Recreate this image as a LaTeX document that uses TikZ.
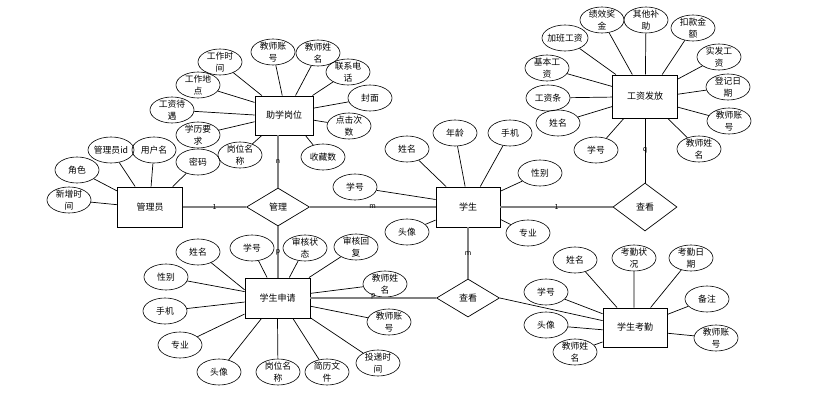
\documentclass[tikz,border=0pt]{standalone}
\usepackage{fontspec}
\setmainfont{Noto Sans CJK SC}
\usetikzlibrary{shapes.geometric}
\begin{document}
\begin{tikzpicture}[x=1pt,y=-1pt,
  ent/.style={draw, line width=0.9pt, minimum width=65pt, minimum height=40pt, inner sep=0pt, font=\fontsize{9}{11}\selectfont},
  attr/.style={draw, ellipse, line width=0.6pt, minimum width=44pt, minimum height=26pt, inner xsep=-5pt, inner ysep=-6pt, align=center, font=\fontsize{8.8}{11.5}\selectfont},
  rel/.style={draw, diamond, line width=0.7pt, minimum width=63pt, minimum height=38pt, inner sep=0pt, font=\fontsize{9}{11}\selectfont},
  lk/.style={line width=0.7pt},
  rl/.style={line width=1.6pt, draw=black!50},
  card/.style={font=\fontsize{7}{8}\selectfont, inner sep=0pt}]
\useasboundingbox (0,0) rectangle (840,401);

% ---------- entities ----------
\node[ent] (gly) at (150,207) {管理员};
\node[ent, minimum width=58pt, minimum height=39pt] (zx) at (284,115.5) {助学岗位};
\node[ent, minimum width=65pt, minimum height=43pt] (gz) at (645,96.5) {工资发放};
\node[ent, minimum width=64pt] (xs) at (468,207) {学生};
\node[ent] (sq) at (277.5,298) {学生申请};
\node[ent, minimum width=64pt, minimum height=39pt] (kq) at (635,327.5) {学生考勤};

% ---------- relationships ----------
\node[rel] (gl) at (278,207) {管理};
\node[rel, minimum width=64pt, minimum height=48pt] (ck1) at (645,207) {查看};
\node[rel] (ck2) at (468,298) {查看};

% ---------- 管理员 attributes ----------
\node[attr, minimum width=46pt] (glyid) at (111,150) {管理员id};
\node[attr] (yhm) at (154,150) {用户名};
\node[attr] (js) at (77,170) {角色};
\node[attr] (xzsj) at (69,200) {新增时\\间};
\node[attr] (mm) at (198,162) {密码};

% ---------- 助学岗位 attributes ----------
\node[attr] (gzsj) at (220,62) {工作时\\间};
\node[attr] (gzdd) at (198,85) {工作地\\点};
\node[attr] (gzdy) at (172,110) {工资待\\遇};
\node[attr] (xlyq) at (198,135) {学历要\\求};
\node[attr] (gwmc1) at (240,155) {岗位名\\称};
\node[attr] (jszh1) at (273,52) {教师账\\号};
\node[attr] (jsxm1) at (318,53) {教师姓\\名};
\node[attr] (lxdh) at (348,72) {联系电\\话};
\node[attr] (fm) at (370,98) {封面};
\node[attr] (djcs) at (349,126) {点击次\\数};
\node[attr] (scs) at (323,157) {收藏数};

% ---------- 工资发放 attributes ----------
\node[attr, minimum width=46pt] (jbgz1) at (565,38) {加班工资};
\node[attr] (jxjj) at (602,20) {绩效奖\\金};
\node[attr] (qtbz) at (646,20) {其他补\\助};
\node[attr] (kkje) at (693,28) {扣款金\\额};
\node[attr] (sfgz) at (719,57) {实发工\\资};
\node[attr] (djrq) at (728,87) {登记日\\期};
\node[attr] (jszh2) at (729,121) {教师账\\号};
\node[attr] (jsxm2) at (699,149) {教师姓\\名};
\node[attr] (xh2) at (596,150) {学号};
\node[attr] (xm2) at (558,123) {姓名};
\node[attr] (gzt) at (548,98) {工资条};
\node[attr] (jbgz) at (547,68) {基本工\\资};

% ---------- 学生 attributes ----------
\node[attr] (xm3) at (407,149) {姓名};
\node[attr] (nl) at (455,133) {年龄};
\node[attr] (sj3) at (510,133) {手机};
\node[attr] (xb3) at (540,173) {性别};
\node[attr] (xh3) at (355,187) {学号};
\node[attr] (tx3) at (407,232) {头像};
\node[attr] (zy3) at (528,233) {专业};

% ---------- 学生申请 attributes ----------
\node[attr] (xm4) at (198,252) {姓名};
\node[attr] (xh4) at (252,248) {学号};
\node[attr] (shzt) at (305,248) {审核状\\态};
\node[attr] (shhf) at (356,247) {审核回\\复};
\node[attr] (xb4) at (166,277) {性别};
\node[attr] (sj4) at (165,311) {手机};
\node[attr] (zy4) at (180,345) {专业};
\node[attr] (tx4) at (219,372) {头像};
\node[attr] (gwmc4) at (278,372) {岗位名\\称};
\node[attr] (jlwj) at (327,372) {简历文\\件};
\node[attr] (tdsj) at (378,363) {投递时\\间};
\node[attr] (jszh4) at (389,322) {教师账\\号};
\node[attr] (jsxm4) at (385,284) {教师姓\\名};

% ---------- 学生考勤 attributes ----------
\node[attr] (xm5) at (575,260) {姓名};
\node[attr] (kqzk) at (634,258) {考勤状\\况};
\node[attr] (kqrq) at (691,258) {考勤日\\期};
\node[attr] (xh5) at (546,292) {学号};
\node[attr] (bz) at (707,299) {备注};
\node[attr] (tx5) at (546,325) {头像};
\node[attr] (jszh5) at (716,338) {教师账\\号};
\node[attr] (jsxm5) at (575,352) {教师姓\\名};

% ---------- relationship connectors ----------
\draw[rl] (gly) -- node[card]{1} (gl);
\draw[rl] (gl) -- node[card]{m} (xs);
\draw[rl] (gl.north) -- node[card]{n} (gl.north |- zx.south);
\draw[rl] (gl.south) -- node[card]{p} (gl.south |- sq.north);
\draw[rl] (xs) -- node[card]{1} (ck1);
\draw[lk] (ck1) -- node[card]{q} (gz);
\draw[rl] (xs) -- node[card]{m} (ck2);
\draw[rl] (sq) -- node[card, yshift=2pt]{p} (ck2);
\draw[lk] (ck2.east) -- (kq.168.5);

% ---------- attribute connectors ----------
\draw[lk] (glyid) -- (gly.126.4);
\draw[lk] (yhm) -- (gly.87);
\draw[lk] (mm) -- (gly.42);
\draw[lk] (js) -- (gly.154);
\draw[lk] (xzsj) -- (gly.176.5);

\draw[lk] (gzsj) -- (zx.138.4);
\draw[lk] (gzdd) -- (zx.156.7);
\draw[lk] (gzdy) -- (zx.179);
\draw[lk] (xlyq) -- (zx.192.6);
\draw[lk] (gwmc1) -- (zx.222.9);
\draw[lk] (jszh1) -- (zx.95.9);
\draw[lk] (jsxm1) -- (zx.60.6);
\draw[lk] (lxdh) -- (zx.35);
\draw[lk] (fm) -- (zx.14.5);
\draw[lk] (djcs) -- (zx.351.2);
\draw[lk] (scs) -- (zx.317.1);

\draw[lk] (jbgz1) -- (gz.143);
\draw[lk] (jxjj) -- (gz.120.2);
\draw[lk] (qtbz) -- (gz.89);
\draw[lk] (kkje) -- (gz.52.5);
\draw[lk] (sfgz) -- (gz.28.3);
\draw[lk] (djrq) -- (gz.4.4);
\draw[lk] (jszh2) -- (gz.342.1);
\draw[lk] (jsxm2) -- (gz.316.3);
\draw[lk] (xh2) -- (gz.226.4);
\draw[lk] (xm2) -- (gz.197.9);
\draw[lk] (gzt) -- (gz.181);
\draw[lk] (jbgz) -- (gz.163.7);

\draw[lk] (xm3) -- (xs.137.7);
\draw[lk] (nl) -- (xs.98.5);
\draw[lk] (sj3) -- (xs.59);
\draw[lk] (xb3) -- (xs.26.6);
\draw[lk] (xh3) -- (xs.167.7);
\draw[lk] (tx3) -- (xs.202.1);
\draw[lk] (zy3) -- (xs.339.4);

\draw[lk] (xm4) -- (sq.166.2);
\draw[lk] (xb4) -- (sq.169.5);
\draw[lk] (sj4) -- (sq.187);
\draw[lk] (zy4) -- (sq.206.2);
\draw[lk] (xh4) -- (sq.117.7);
\draw[lk] (shzt) -- (sq.60.1);
\draw[lk] (shhf) -- (sq.33.3);
\draw[lk] (jsxm4) -- (sq.8.7);
\draw[lk] (jszh4) -- (sq.346.2);
\draw[lk] (tdsj) -- (sq.329);
\draw[lk] (jlwj) -- (sq.307.8);
\draw[lk] (gwmc4) -- (sq.270);
\draw[lk] (tx4) -- (sq.232.2);

\draw[lk] (xm5) -- (kq.132.7);
\draw[lk] (kqzk) -- (kq.93);
\draw[lk] (kqrq) -- (kq.52.4);
\draw[lk] (xh5) -- (kq.157.1);
\draw[lk] (bz) -- (kq.22.9);
\draw[lk] (tx5) -- (kq.184.5);
\draw[lk] (jszh5) -- (kq.350.3);
\draw[lk] (jsxm5) -- (kq.204.4);
\end{tikzpicture}
\end{document}
